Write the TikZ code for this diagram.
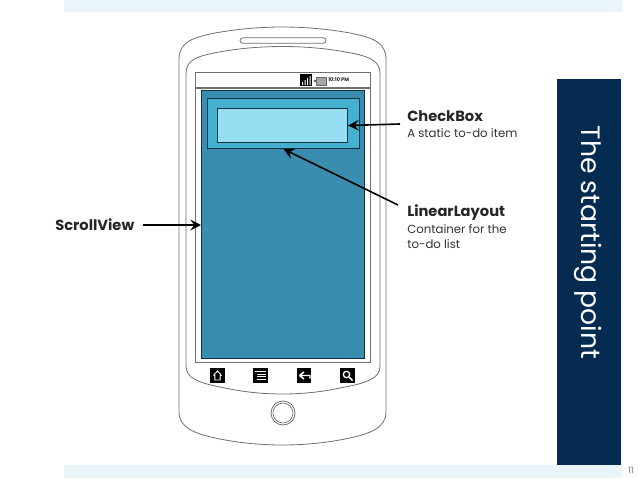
\documentclass[tikz,border=0pt]{standalone}
\usepackage{fontspec}
\setmainfont{Poppins}
\usetikzlibrary{arrows.meta}
\definecolor{band}{HTML}{EAF5FA}
\definecolor{navy}{HTML}{052C50}
\definecolor{scrollc}{HTML}{3A8DAE}
\definecolor{linc}{HTML}{45B0D0}
\definecolor{chkc}{HTML}{97DEF3}
\definecolor{edgec}{HTML}{12303F}
\definecolor{phonec}{HTML}{707070}
\tikzset{
  phone/.style={draw=phonec,line width=0.6pt,fill=white},
  view/.style={draw=edgec,line width=0.8pt},
  callout/.style={-{Stealth[length=8pt,width=8pt,inset=3pt]},line width=1.2pt,black},
  title/.style={anchor=west,inner sep=0pt,font=\fontsize{11}{13}\selectfont\bfseries,text=black!85},
  body/.style={anchor=north west,inner sep=0pt,align=left,font=\fontsize{8.8}{11.6}\selectfont,text=black!80},
  keyicon/.style={fill=black,minimum size=11pt,inner sep=0pt,draw=none},
  glyph/.style={draw=white,line width=0.7pt,fill=none}
}
\begin{document}
\begin{tikzpicture}[x=0.75pt,y=-0.75pt]
\useasboundingbox (0,0) rectangle (638,478);
\fill[band] (64,0) rectangle (622,12);
\fill[band] (64,465) rectangle (622,478);
\node[fill=navy,minimum width=48pt,minimum height=289.5pt,inner sep=0pt,anchor=north west] (side) at (557,79) {};
\node[rotate=-90,text=white,inner sep=0pt,font=\fontsize{20}{22}\selectfont] (sidetext) at (588,242.5) {The starting point};
\node[anchor=south east,inner sep=0pt,font=\fontsize{6.5}{7}\selectfont,text=black!55] (pagenum) at (634,474) {11};
% phone body
\draw[phone] (179,60) .. controls (179,43) and (190,38) .. (215,33) .. controls (260,25) and (305,25) .. (350,33) .. controls (375,38) and (386,43) .. (386,60) -- (386,412) .. controls (386,428) and (370,434) .. (345,439) .. controls (305,447) and (260,447) .. (220,439) .. controls (195,434) and (179,428) .. (179,412) -- cycle;
\draw[phone] (186,74) .. controls (186,60) and (195,56) .. (225,51) .. controls (262,45) and (303,45) .. (340,51) .. controls (370,56) and (380,60) .. (380,74) -- (380,366) .. controls (380,378) and (368,383) .. (340,388) .. controls (303,396) and (262,396) .. (225,388) .. controls (198,383) and (186,378) .. (186,366) -- cycle;
\node[draw=phonec,fill=white,line width=0.6pt,rounded corners=2pt,minimum width=64.5pt,minimum height=4pt,inner sep=0pt] (speaker) at (283,40.5) {};
\node[draw=phonec,fill=white,line width=0.8pt,minimum width=131.25pt,minimum height=217.5pt,inner sep=0pt,anchor=north west] (screen) at (195,72) {};
\draw[phonec,line width=0.8pt] (195,88) -- (370,88);
% status bar
\fill[black] (300,74) rectangle (312,86);
\fill[white] (302,82) rectangle (303,85) (304.5,80) rectangle (305.5,85) (307,78) rectangle (308,85) (309.5,76) rectangle (310.5,85);
\draw[black!60,fill=black!35,line width=0.4pt] (316,77) rectangle (326,85);
\fill[black!60] (314,80) rectangle (316,82);
\node[inner sep=0pt,anchor=west,font=\fontsize{3.8}{4}\selectfont\bfseries,text=black!85] (clock) at (328,79.5) {10:10 PM};
% views
\node[view,fill=scrollc,minimum width=122.25pt,minimum height=201pt,inner sep=0pt,anchor=north west] (scroll) at (201,90) {};
\node[view,fill=linc,minimum width=114pt,minimum height=37.5pt,inner sep=0pt,anchor=north west] (linear) at (207,98) {};
\node[view,fill=chkc,minimum width=97.5pt,minimum height=25.5pt,inner sep=0pt,anchor=north west] (check) at (217,108) {};
% soft keys
\node[keyicon] (k1) at (217.5,375.5) {};
\node[keyicon] (k2) at (260.5,375.5) {};
\node[keyicon] (k3) at (304,375.5) {};
\node[keyicon] (k4) at (347.5,375.5) {};
\draw[glyph] (213.5,375.5) -- (217.5,371) -- (221.5,375.5) (214.8,375) -- (214.8,380) -- (220.2,380) -- (220.2,375);
\draw[glyph] (255,371.5) -- (266,371.5) (257,374.2) -- (265.5,374.2) (257,376.9) -- (265.5,376.9) (257,379.6) -- (265.5,379.6);
\draw[white,line width=1.1pt] (299.5,375.5) -- (304,372) (299.5,375.5) -- (304,379) (299.5,375.5) -- (310,375.5) -- (310,378.5);
\draw[glyph,line width=1pt] (346.5,374.5) circle (3.2);
\draw[white,line width=1.3pt] (349,377) -- (352.5,380.5);
% home button
\node[circle,draw=phonec,fill=white,line width=0.6pt,minimum size=18pt,inner sep=0pt] (home) at (283,413) {};
\node[circle,draw=phonec,fill=white,line width=0.5pt,minimum size=15pt,inner sep=0pt] (homein) at (283,413) {};
% labels
\node[inner sep=0pt,anchor=west,font=\fontsize{11}{13}\selectfont\bfseries,text=black!85] (lscroll) at (55,225) {ScrollView};
\node[title] (lcheck) at (407,116) {CheckBox};
\node[body] (dcheck) at (407,128) {A static to-do item};
\node[title] (llinear) at (407,213) {LinearLayout};
\node[body] (dlinear) at (407,224) {Container for the\\to-do list};
% connectors
\coordinate (c1) at (400,124);
\coordinate (c2) at (398,205);
\coordinate (c3) at (143,225);
\draw[callout] (c1) -- (check.east);
\draw[callout] (c2) -- (linear.south);
\draw[callout] (c3) -- (scroll.west |- c3);
\end{tikzpicture}
\end{document}
